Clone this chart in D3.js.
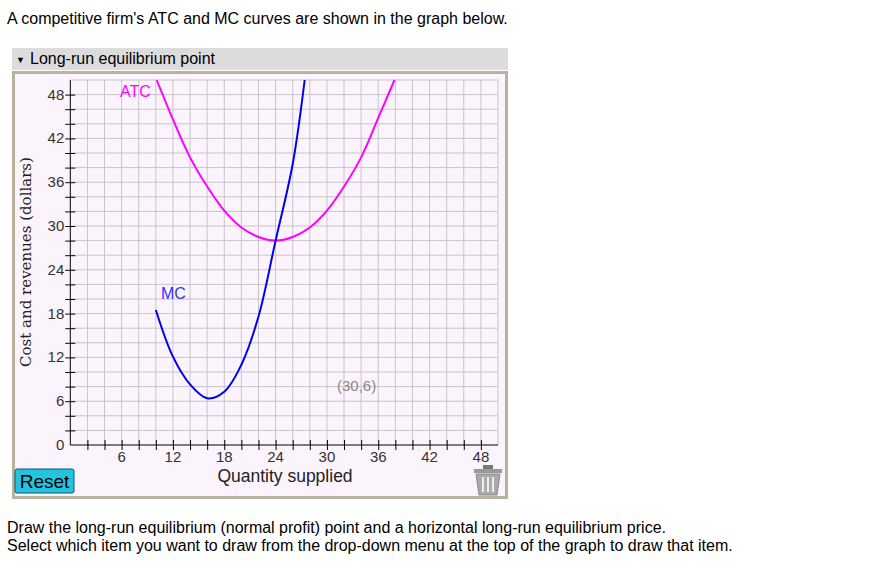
<!DOCTYPE html>
<html><head><meta charset="utf-8">
<script src="https://cdn.jsdelivr.net/npm/d3@7"></script>
<style>
body{margin:0;background:#fff;font-family:Arial,"Liberation Sans",sans-serif;}
</style></head>
<body><svg id="c" width="879" height="569"></svg>
<script>
// curve readings
var atcQ = [10.1, 12, 14, 16, 18, 20, 22, 24, 26, 28, 30, 32, 34, 36, 37.9];
var atcP = [50, 44.6, 39.4, 35.4, 32.1, 29.8, 28.5, 28, 28.5, 29.8, 32.1, 35.4, 39.4, 44.8, 50];
var mcQ = [10, 12, 14, 16, 18, 20, 22, 24, 26, 27.4];
var mcP = [18.5, 12.1, 8.3, 6.4, 7.3, 11, 17.6, 28, 38.5, 50];
var ticks = [6, 12, 18, 24, 30, 36, 42, 48];

var svg = d3.select("#c");
var x = d3.scaleLinear().domain([0, 50]).range([70.3, 498]);
var y = d3.scaleLinear().domain([0, 50]).range([445, 80]);

svg.append("text").attr("x", 7).attr("y", 24).attr("font-size", 16).text("A competitive firm's ATC and MC curves are shown in the graph below.");
svg.append("rect").attr("x", 12).attr("y", 48).attr("width", 496).attr("height", 22).attr("fill", "#dcdcdc");
svg.append("text").attr("x", 16).attr("y", 63).attr("font-size", 9).text("▼");
svg.append("text").attr("x", 30).attr("y", 64).attr("font-size", 16).text("Long-run equilibrium point");
svg.append("rect").attr("x", 13.5).attr("y", 72.5).attr("width", 493).attr("height", 425)
    .attr("fill", "#fcf4fc").attr("stroke", "#b8b39a").attr("stroke-width", 3);

var g = svg.append("g");
for (var i = 2; i <= 50; i += 2) {
    g.append("line").attr("x1", x(i)).attr("x2", x(i)).attr("y1", y(0)).attr("y2", y(50)).attr("stroke", "#c8c4c8");
    g.append("line").attr("y1", y(i)).attr("y2", y(i)).attr("x1", x(0)).attr("x2", x(50)).attr("stroke", "#c8c4c8");
}
g.append("g").attr("transform", "translate(0," + y(0) + ")")
    .call(d3.axisBottom(x).tickValues(d3.range(2, 50, 2)).tickSize(10).tickFormat(""))
    .call(s => s.selectAll(".tick line").attr("transform", "translate(0,-5)"))
    .call(s => s.select(".domain").remove());
g.append("g").attr("transform", "translate(" + x(0) + ",0)")
    .call(d3.axisLeft(y).tickValues(d3.range(2, 50, 2)).tickSize(10).tickFormat(""))
    .call(s => s.selectAll(".tick line").attr("transform", "translate(5,0)"))
    .call(s => s.select(".domain").remove());
g.append("line").attr("x1", x(0)).attr("x2", x(50)).attr("y1", y(0)).attr("y2", y(0)).attr("stroke", "#000");
g.append("line").attr("x1", x(0)).attr("x2", x(0)).attr("y1", y(0)).attr("y2", y(50)).attr("stroke", "#000");

ticks.forEach(function (t) {
    g.append("text").attr("x", x(t)).attr("y", y(0) + 17).attr("text-anchor", "middle").attr("font-size", 15).attr("fill", "#333").text(t);
    g.append("text").attr("x", x(0) - 6).attr("y", y(t) + 5).attr("text-anchor", "end").attr("font-size", 15).attr("fill", "#333").text(t);
});
g.append("text").attr("x", x(0) - 6).attr("y", y(0) + 5).attr("text-anchor", "end").attr("font-size", 15).attr("fill", "#333").text("0");
g.append("text").attr("x", 285).attr("y", 482).attr("text-anchor", "middle").attr("font-size", 17.5).attr("fill", "#222").text("Quantity supplied");
g.append("text").attr("transform", "translate(31,262) rotate(-90)").attr("text-anchor", "middle")
    .attr("font-size", 15).attr("font-family", "'DejaVu Serif',serif").attr("fill", "#222").text("Cost and revenues (dollars)");

var line = d3.line().x(d => x(d[0])).y(d => y(d[1])).curve(d3.curveCatmullRom);
g.append("path").attr("d", line(d3.zip(atcQ, atcP))).attr("fill", "none").attr("stroke", "#ff00ff").attr("stroke-width", 2);
g.append("path").attr("d", line(d3.zip(mcQ, mcP))).attr("fill", "none").attr("stroke", "#0000ee").attr("stroke-width", 2);
g.append("text").attr("x", 120).attr("y", 97).attr("fill", "#ff00ff").attr("font-size", 16).text("ATC");
g.append("text").attr("x", 161).attr("y", 299).attr("fill", "#3333ff").attr("font-size", 16).text("MC");
g.append("text").attr("x", 337).attr("y", 391).attr("fill", "#888").attr("font-size", 15).text("(30,6)");

svg.append("rect").attr("x", 15).attr("y", 469).attr("width", 59).attr("height", 24).attr("rx", 2)
    .attr("fill", "#22c4e0").attr("stroke", "#157").attr("stroke-width", 1);
svg.append("text").attr("x", 44.5).attr("y", 488).attr("text-anchor", "middle").attr("font-size", 19).attr("fill", "#000").text("Reset");
// trash icon
var tr = svg.append("g").attr("transform", "translate(474,465)");
tr.append("rect").attr("x", 0).attr("y", 4).attr("width", 28).attr("height", 4).attr("fill", "#999");
tr.append("rect").attr("x", 9).attr("y", 0).attr("width", 10).attr("height", 4).attr("fill", "#777");
tr.append("path").attr("d", "M2,9 L26,9 L23,30 L5,30 Z").attr("fill", "#aaa").attr("stroke", "#888");
[9, 14, 19].forEach(function (v) { tr.append("line").attr("x1", v).attr("x2", v).attr("y1", 12).attr("y2", 27).attr("stroke", "#eee").attr("stroke-width", 2); });

svg.append("text").attr("x", 7).attr("y", 533).attr("font-size", 16).text("Draw the long-run equilibrium (normal profit) point and a horizontal long-run equilibrium price.");
svg.append("text").attr("x", 7).attr("y", 551).attr("font-size", 16).text("Select which item you want to draw from the drop-down menu at the top of the graph to draw that item.");
</script></body></html>
